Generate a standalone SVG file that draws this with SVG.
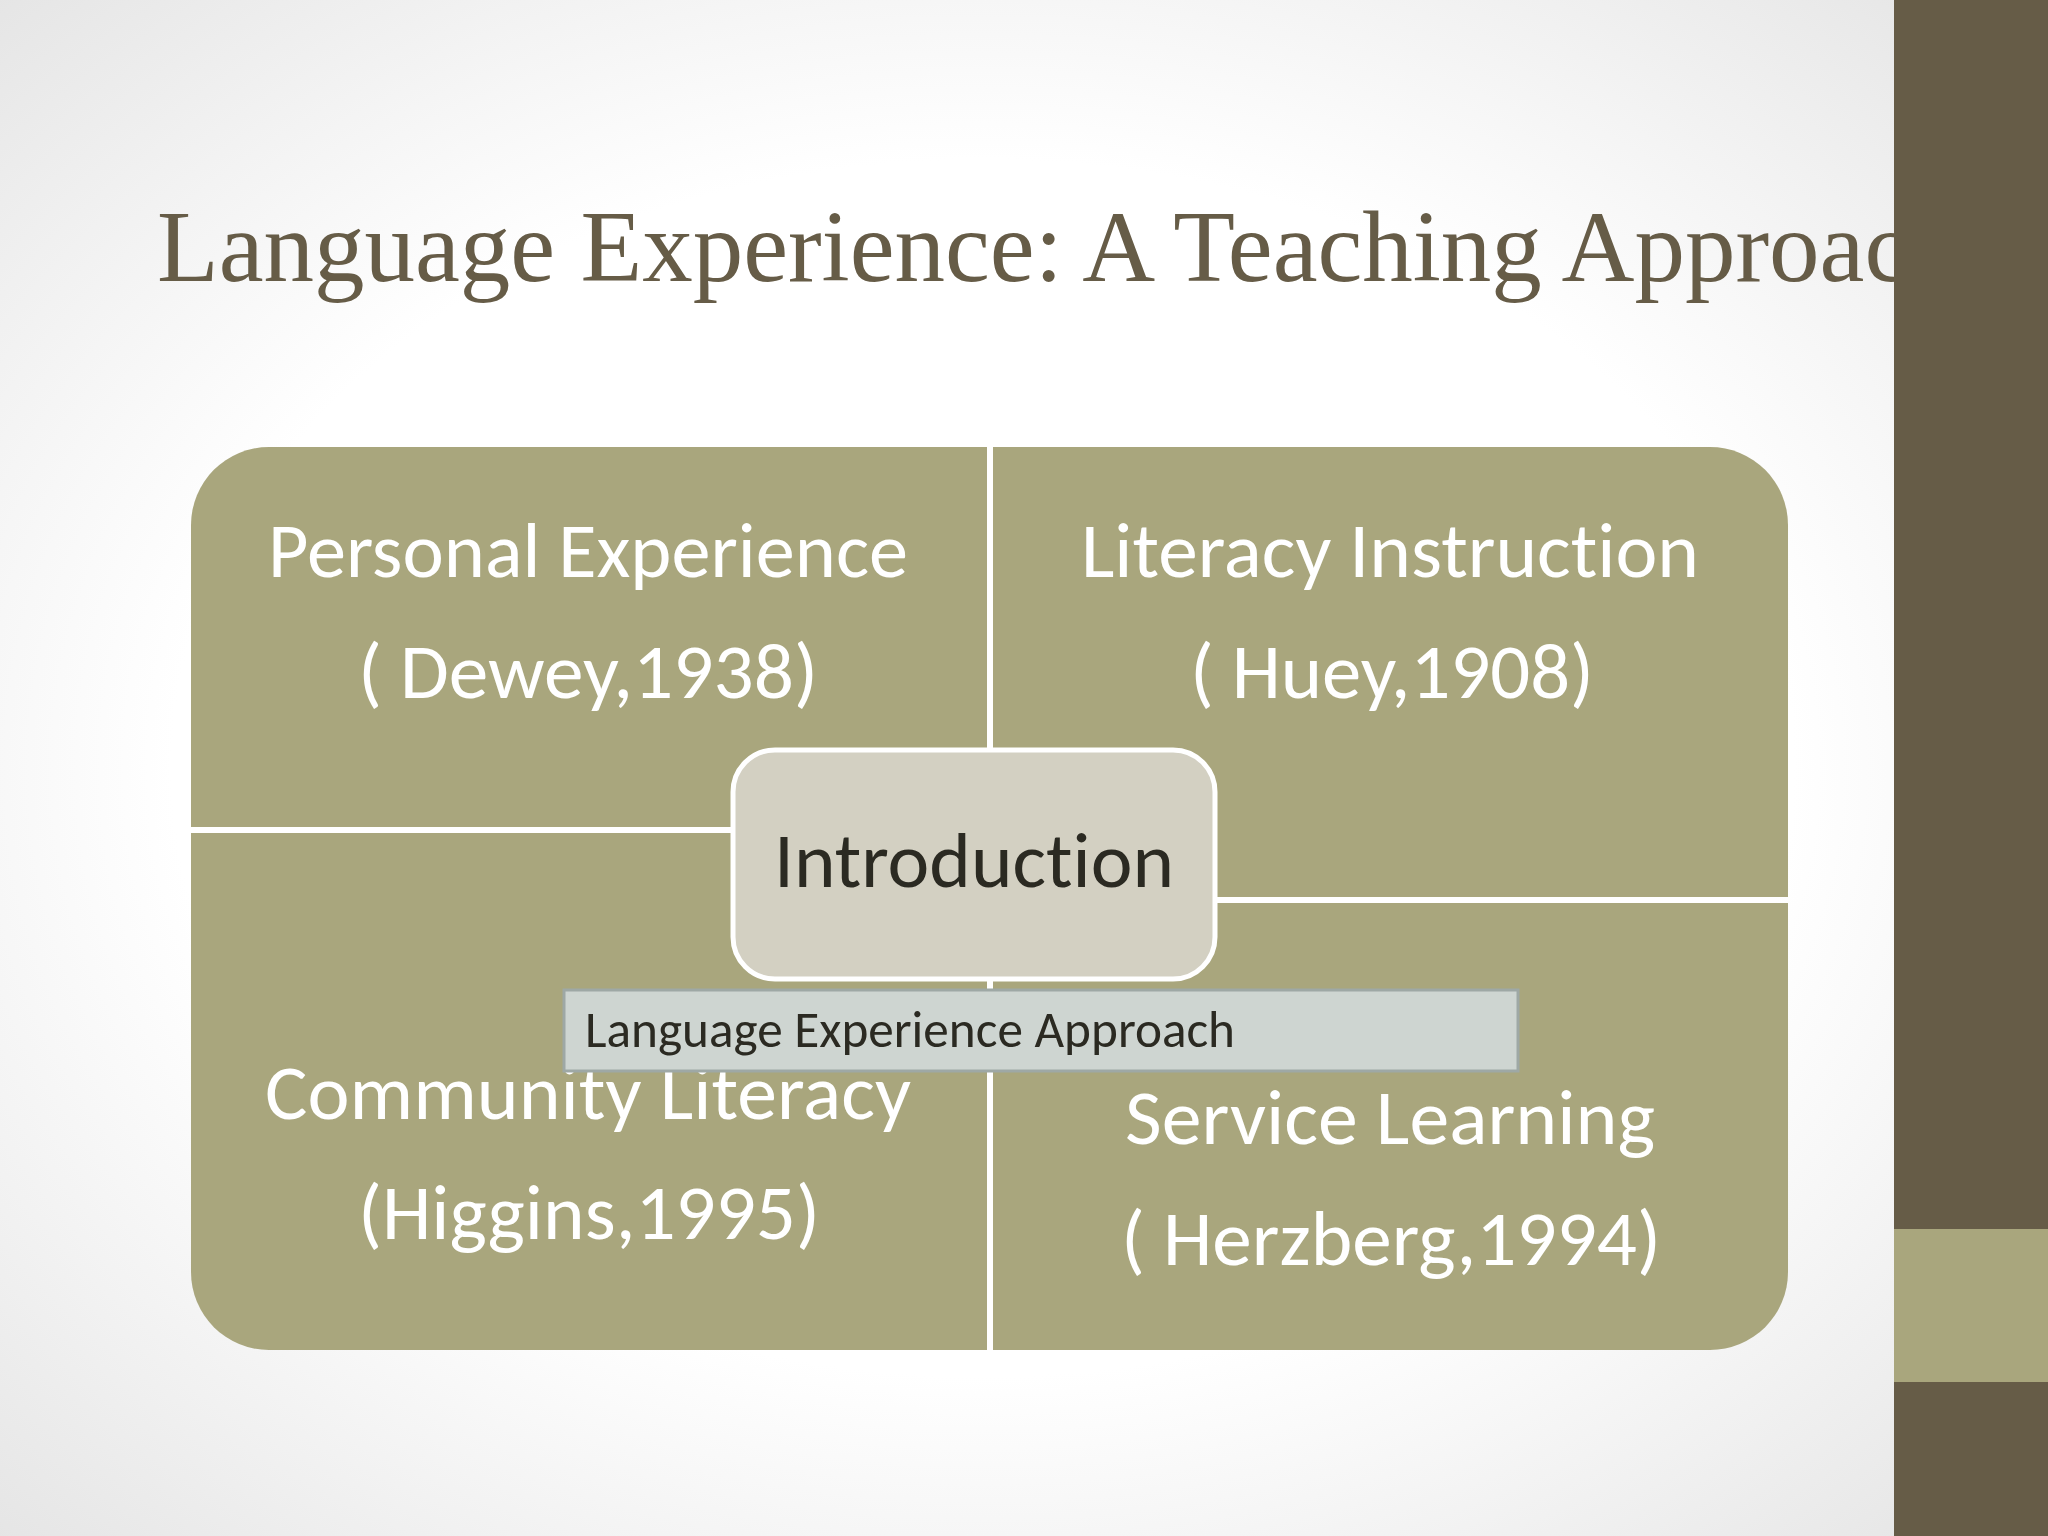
<svg xmlns="http://www.w3.org/2000/svg" width="2048" height="1536" viewBox="0 0 2048 1536">
  <defs>
    <radialGradient id="bg" cx="48%" cy="50%" r="72%">
      <stop offset="0.55" stop-color="#ffffff"/>
      <stop offset="1" stop-color="#e3e3e3"/>
    </radialGradient>
    <style>
      text { font-variant-ligatures: none; }
      .quad { fill: #a9a67d; }
      .wt { font-family: "Carlito", "Lato", "Open Sans", sans-serif; font-size: 78px; fill: #ffffff; text-anchor: middle; }
      .dk { font-family: "Carlito", "Lato", "Open Sans", sans-serif; fill: #2b2a22; }
      .title { font-family: "Liberation Serif", "Times New Roman", serif; font-size: 101px; fill: #665c47; }
    </style>
  </defs>

  <rect x="0" y="0" width="2048" height="1536" fill="url(#bg)"/>

  <text class="title" x="157" y="281">Language Experience: A Teaching Approach</text>

  <g id="personal-experience">
    <path class="quad" d="M191,525 A78,78 0 0 1 269,447 H987 V827 H191 Z"/>
    <text class="wt" x="588" y="577" textLength="640" lengthAdjust="spacingAndGlyphs">Personal Experience</text>
    <text class="wt" x="588" y="698" textLength="460" lengthAdjust="spacingAndGlyphs">( Dewey,1938)</text>
  </g>

  <g id="literacy-instruction">
    <path class="quad" d="M993,447 H1710 A78,78 0 0 1 1788,525 V897 H993 Z"/>
    <text class="wt" x="1390" y="577" textLength="618" lengthAdjust="spacingAndGlyphs">Literacy Instruction</text>
    <text class="wt" x="1392" y="698" textLength="404" lengthAdjust="spacingAndGlyphs">( Huey,1908)</text>
  </g>

  <g id="community-literacy">
    <path class="quad" d="M191,833 H987 V1350 H269 A78,78 0 0 1 191,1272 Z"/>
    <text class="wt" x="588" y="1119" textLength="646" lengthAdjust="spacingAndGlyphs">Community Literacy</text>
    <text class="wt" x="589" y="1239" textLength="462" lengthAdjust="spacingAndGlyphs">(Higgins,1995)</text>
  </g>

  <g id="service-learning">
    <path class="quad" d="M993,903 H1788 V1272 A78,78 0 0 1 1710,1350 H993 Z"/>
    <text class="wt" x="1390" y="1144" textLength="530" lengthAdjust="spacingAndGlyphs">Service Learning</text>
    <text class="wt" x="1391" y="1265" textLength="540" lengthAdjust="spacingAndGlyphs">( Herzberg,1994)</text>
  </g>

  <g id="connectors"></g>

  <g id="introduction">
    <rect x="733" y="750" width="482" height="229" rx="42" ry="42" fill="#d3d0c2" stroke="#ffffff" stroke-width="5"/>
    <text class="dk" x="974" y="887" font-size="78" text-anchor="middle" textLength="400" lengthAdjust="spacingAndGlyphs">Introduction</text>
  </g>

  <g id="language-experience-approach">
    <rect x="564" y="990" width="954" height="81" fill="#ced5d1" stroke="#9ea8a5" stroke-width="3"/>
    <text class="dk" x="585" y="1047" font-size="51" textLength="650" lengthAdjust="spacingAndGlyphs">Language Experience Approach</text>
  </g>

  <g id="side-bar">
    <rect x="1894" y="0" width="154" height="1536" fill="#665c47"/>
    <rect x="1894" y="1229" width="154" height="153" fill="#a9a67d"/>
  </g>
</svg>
